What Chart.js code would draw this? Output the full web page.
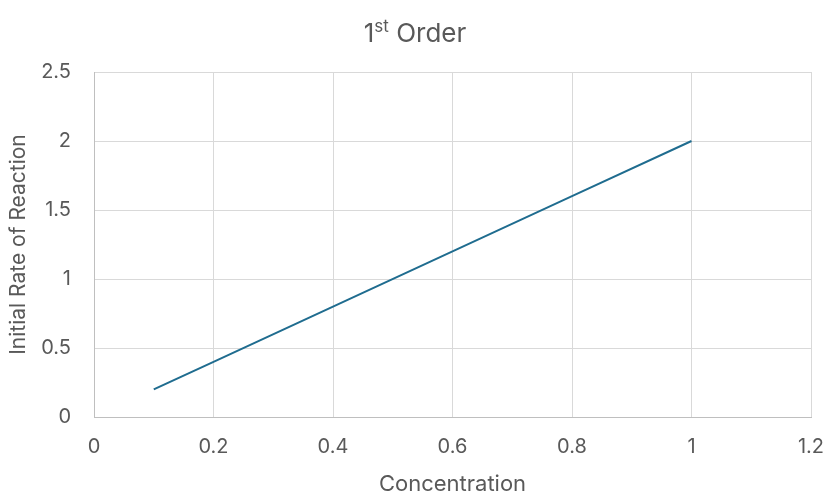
<!DOCTYPE html>
<html>
<head>
<meta charset="utf-8">
<script src="https://cdn.jsdelivr.net/npm/chart.js@4/dist/chart.umd.min.js"></script>
<style>
html,body{margin:0;padding:0;background:#fff;}
#wrap{width:838px;height:502px;}
</style>
</head>
<body>
<div id="wrap"><canvas id="c" width="838" height="502"></canvas></div>
<script>
const concentration = [0.1, 0.2, 0.4, 0.6, 0.8, 1.0];
const initialRate = [0.2, 0.4, 0.8, 1.2, 1.6, 2.0];
const xTicks = [0, 0.2, 0.4, 0.6, 0.8, 1, 1.2];
const yTicks = [0, 0.5, 1, 1.5, 2, 2.5];
const titleMain = "1";
const titleSup = "st";
const titleRest = " Order";
const FONT = "Inter, 'Open Sans', sans-serif";
const GRAY = "#595959";

const titlePlugin = {
  id: 'supTitle',
  afterDraw(chart) {
    const ctx = chart.ctx;
    ctx.save();
    ctx.fillStyle = GRAY;
    ctx.textBaseline = 'alphabetic';
    const big = "26px " + FONT, small = "17px " + FONT;
    ctx.font = big; const w1 = ctx.measureText(titleMain).width; const w3 = ctx.measureText(titleRest).width;
    ctx.font = small; const w2 = ctx.measureText(titleSup).width;
    const total = w1 + w2 + w3;
    let x = 415 - total/2;
    const base = 42;
    ctx.font = big; ctx.fillText(titleMain, x, base); x += w1;
    ctx.font = small; ctx.fillText(titleSup, x, base - 10); x += w2;
    ctx.font = big; ctx.fillText(titleRest, x, base);
    ctx.restore();
  }
};

new Chart(document.getElementById('c'), {
  type: 'scatter',
  data: {
    datasets: [{
      data: concentration.map((c, i) => ({x: c, y: initialRate[i]})),
      showLine: true,
      borderColor: '#1f6c8f',
      borderWidth: 2,
      pointRadius: 0,
      fill: false
    }]
  },
  options: {
    responsive: false,
    animation: false,
    devicePixelRatio: 1,
    layout: {padding: {top: 72, right: 27, left: 0, bottom: 0}},
    plugins: {legend: {display: false}, tooltip: {enabled: false}, title: {display: false}},
    scales: {
      x: {
        type: 'linear', min: 0, max: 1.2,
        afterBuildTicks(axis) { axis.ticks = xTicks.map(v => ({value: v})); },
        afterFit(axis) { axis.height = 85; axis.paddingRight = 0; axis.paddingLeft = 0; },
        grid: {color: '#d9d9d9', lineWidth: 1, drawTicks: false},
        border: {color: '#bfbfbf'},
        ticks: {color: GRAY, font: {family: FONT, size: 20}, padding: 18, maxRotation: 0,
                callback: v => String(v)},
        title: {display: true, text: 'Concentration', color: GRAY, font: {family: FONT, size: 22}, padding: {top: 0}}
      },
      y: {
        type: 'linear', min: 0, max: 2.5,
        afterBuildTicks(axis) { axis.ticks = yTicks.map(v => ({value: v})); },
        afterFit(axis) { axis.width = 94; axis.paddingTop = 0; axis.paddingBottom = 0; },
        grid: {color: '#d9d9d9', lineWidth: 1, drawTicks: false},
        border: {color: '#bfbfbf'},
        ticks: {color: GRAY, font: {family: FONT, size: 20}, padding: 23, callback: v => String(v)},
        title: {display: true, text: 'Initial Rate of Reaction', color: GRAY, font: {family: FONT, size: 21}, padding: {top: 6, bottom: 0}}
      }
    }
  },
  plugins: [titlePlugin]
});
</script>
</body>
</html>
